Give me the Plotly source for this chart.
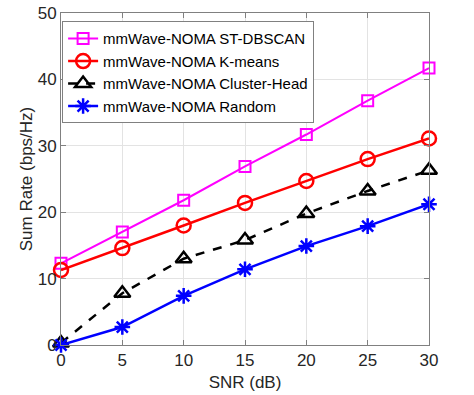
import plotly.graph_objects as go

snr = [0, 5, 10, 15, 20, 25, 30]
st_dbscan = [12.3, 17.0, 21.8, 26.9, 31.7, 36.8, 41.7]
kmeans = [11.3, 14.6, 18.0, 21.4, 24.7, 28.0, 31.1]
cluster_head = [0.3, 7.8, 13.0, 15.8, 19.8, 23.2, 26.3]
random_sel = [0.0, 2.7, 7.4, 11.4, 14.9, 17.9, 21.2]

names = ["mmWave-NOMA ST-DBSCAN", "mmWave-NOMA K-means",
         "mmWave-NOMA Cluster-Head", "mmWave-NOMA Random"]

fig = go.Figure()
fig.add_trace(go.Scatter(x=snr, y=st_dbscan, name=names[0], mode="lines+markers",
                         line=dict(color="#ff00ff", width=2),
                         marker=dict(symbol="square-open", size=11, color="#ff00ff", line=dict(width=2)),
                         cliponaxis=False))
fig.add_trace(go.Scatter(x=snr, y=kmeans, name=names[1], mode="lines+markers",
                         line=dict(color="#ff0000", width=2.5),
                         marker=dict(symbol="circle-open", size=14, color="#ff0000", line=dict(width=2.5)),
                         cliponaxis=False))
fig.add_trace(go.Scatter(x=snr, y=cluster_head, name=names[2], mode="lines+markers",
                         line=dict(color="#000000", width=2.5, dash="dash"),
                         marker=dict(symbol="triangle-up-open", size=14, color="#000000", line=dict(width=2.5)),
                         cliponaxis=False))
fig.add_trace(go.Scatter(x=snr, y=random_sel, name=names[3], mode="lines+markers",
                         line=dict(color="#0000ff", width=2.5),
                         marker=dict(symbol="asterisk-open", size=13, color="#0000ff", line=dict(width=2.5)),
                         cliponaxis=False))

axis_common = dict(showgrid=True, gridcolor="#e3e3e3", gridwidth=1,
                   showline=True, linecolor="#808080", linewidth=1, mirror="ticks",
                   ticks="inside", ticklen=5, tickcolor="#808080",
                   zeroline=False, automargin=False,
                   tickfont=dict(size=17, color="#262626"))

fig.update_layout(
    width=474, height=395,
    margin=dict(l=61, r=45, t=13, b=50),
    paper_bgcolor="white", plot_bgcolor="white",
    font=dict(family="Liberation Sans, Arial, sans-serif", color="#262626"),
    xaxis=dict(range=[0, 30], dtick=5, title=dict(text="SNR (dB)", font=dict(size=17), standoff=6), **axis_common),
    yaxis=dict(range=[0, 50], dtick=10, title=dict(text="Sum Rate (bps/Hz)", font=dict(size=17), standoff=0), **axis_common),
    legend=dict(x=0.003, y=0.975, xanchor="left", yanchor="top",
                bgcolor="white", bordercolor="#808080", borderwidth=1,
                font=dict(size=15, color="#000000"), tracegroupgap=0,
                itemwidth=30),
    showlegend=True,
)

fig.write_html("out.html", config={"displayModeBar": False},
               post_script="document.body.style.margin='0';")
